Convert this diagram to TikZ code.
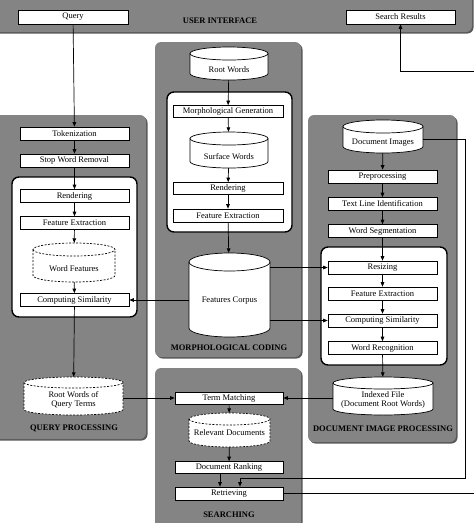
\documentclass[tikz,border=0pt]{standalone}
\usepackage{fontspec}
\setmainfont{Liberation Serif}
\usetikzlibrary{arrows.meta}
\definecolor{panelgray}{RGB}{132,132,132}
\definecolor{shadowgray}{RGB}{88,88,88}
\tikzset{
 base/.style={font=\fontsize{8.5}{9.5}\selectfont},
 panel/.style={fill=panelgray, rounded corners=6pt},
 pshadow/.style={fill=shadowgray, rounded corners=6pt},
 innerbox/.style={draw, fill=white, line width=1.4pt, rounded corners=7pt},
 box/.style={draw, fill=white, line width=0.7pt, inner sep=0pt, minimum height=13pt, base},
 txt/.style={inner sep=0pt, base, align=center},
 ptitle/.style={inner sep=0pt, font=\fontsize{8.5}{9.5}\selectfont\bfseries},
 cylbody/.style={draw, fill=white, line width=0.7pt},
 cylline/.style={draw, line width=0.7pt},
 dsh/.style={dash pattern=on 2pt off 1.5pt},
 arr/.style={line width=0.7pt, -{Triangle[length=4.5pt,width=3.6pt]}},
 ln/.style={line width=0.7pt},
}
% #1 extra style, #2 name, #3 cx, #4 top, #5 bottom, #6 rx, #7 ry, #8 text y, #9 text
\newcommand{\drawcyl}[9][]{%
  \path[cylbody,#1] ({#3-#6},{#4+#7}) -- ({#3-#6},{#5-#7})
     arc[start angle=180,end angle=360,x radius=#6pt,y radius=#7pt]
     -- ({#3+#6},{#4+#7})
     arc[start angle=0,end angle=180,x radius=#6pt,y radius=#7pt] -- cycle;
  \path[cylline,#1] ({#3-#6},{#4+#7}) arc[start angle=180,end angle=360,x radius=#6pt,y radius=#7pt];
  \node[inner sep=0pt,minimum width={2*#6pt},minimum height={(#5-#4)*1pt}] (#2) at (#3,{(#4+#5)/2}) {};
  \node[txt] (#2-t) at (#3,#8) {#9};
}
\newcommand{\drawpanel}[4]{%
  \fill[pshadow] ({#1+1.5},{#2+1.5}) rectangle ({#3+1.5},{#4+1.5});
  \fill[panel] (#1,#2) rectangle (#3,#4);
}
\begin{document}
\begin{tikzpicture}[x=1pt,y=-1pt]
\useasboundingbox (0,0) rectangle (474,523);
\clip (0,0) rectangle (474,523);
\fill[white] (0,0) rectangle (474,523);

% panels
\drawpanel{-8}{-10}{472}{32}
\drawpanel{155}{42}{301}{357}
\drawpanel{-8}{115}{146}{439}
\drawpanel{155}{368}{301}{535}
\drawpanel{308}{115}{456}{442}

% inner white boxes
\draw[innerbox] (12,177) rectangle (137,317);
\draw[innerbox] (167,92) rectangle (292,232);
\draw[innerbox] (321,247) rectangle (447,365);

% user interface
\node[box, minimum width=110pt, minimum height=14pt] (query) at (73,17) {Query};
\node[box, minimum width=109pt, minimum height=14pt] (sres) at (400.5,17) {Search Results};
\node[ptitle] (ui) at (220,21) {USER INTERFACE};

% query processing
\node[box, minimum width=109pt] (tok) at (74.5,133.5) {Tokenization};
\node[box, minimum width=109pt] (swr) at (74.5,160.5) {Stop Word Removal};
\node[box, minimum width=109pt] (qren) at (74.5,196) {Rendering};
\node[box, minimum width=109pt] (qfe) at (74.5,223) {Feature Extraction};
\drawcyl[dsh]{wf}{74}{243}{282}{41}{6.5}{269}{Word Features}
\node[box, minimum width=109pt] (qcs) at (74.5,300) {Computing Similarity};
\drawcyl[dsh]{rq}{73.5}{377}{415}{49.5}{5.5}{400}{Root Words of\\Query Terms}
\node[ptitle] (qp) at (74,428) {QUERY PROCESSING};

% morphological coding
\drawcyl{rw}{229}{47}{80}{39}{6.5}{70}{Root Words}
\node[box, minimum width=110pt, minimum height=12pt] (mg) at (228,111.5) {Morphological Generation};
\drawcyl{sw}{229}{132}{168}{39}{6.5}{157}{Surface Words}
\node[box, minimum width=110pt, minimum height=12pt] (mren) at (228,188.5) {Rendering};
\node[box, minimum width=110pt, minimum height=13pt] (mfe) at (228,215.5) {Feature Extraction};
\drawcyl{fc}{229.5}{253}{337}{40.5}{9}{301}{Features Corpus}
\node[ptitle] (mc) at (229,348) {MORPHOLOGICAL CODING};

% document image processing
\drawcyl{di}{383}{120}{153}{40}{6.5}{143}{Document Images}
\node[box, minimum width=109pt] (pre) at (382.5,176.5) {Preprocessing};
\node[box, minimum width=109pt] (tli) at (382.5,204) {Text Line Identification};
\node[box, minimum width=109pt] (wsg) at (382.5,231) {Word Segmentation};
\node[box, minimum width=109pt] (rsz) at (382.5,267.5) {Resizing};
\node[box, minimum width=109pt] (dfe) at (382.5,293.5) {Feature Extraction};
\node[box, minimum width=109pt] (dcs) at (382.5,320.5) {Computing Similarity};
\node[box, minimum width=109pt] (wrc) at (382.5,348) {Word Recognition};
\drawcyl{ixf}{383}{377}{415}{50}{6}{400}{Indexed File\\(Document Root Words)}
\node[ptitle] (dip) at (383,429) {DOCUMENT IMAGE PROCESSING};

% searching
\node[box, minimum width=108pt, minimum height=12pt] (tm) at (229,398) {Term Matching};
\drawcyl[dsh]{rd}{229.5}{413}{447}{40.5}{6}{433}{Relevant Documents}
\node[box, minimum width=108pt, minimum height=12pt] (drk) at (229,467.5) {Document Ranking};
\node[box, minimum width=108pt, minimum height=13pt] (ret) at (229,493.5) {Retrieving};
\node[ptitle] (se) at (229,515) {SEARCHING};

% connectors
\coordinate (c1) at (465.5,478);
\coordinate (c2) at (476,71);

\draw[arr] (query) -- (tok);
\draw[arr] (tok) -- (swr);
\draw[arr] (swr) -- (qren);
\draw[arr] (qren) -- (qfe);
\draw[arr] (qfe) -- (wf);
\draw[arr] (wf) -- (qcs);
\draw[arr] (fc.west |- qcs.east) -- (qcs.east);
\draw[arr] (qcs) -- (rq);
\draw[arr] (rq.east |- tm.west) -- (tm.west);

\draw[arr] (rw) -- (mg);
\draw[arr] (mg) -- (sw);
\draw[arr] (sw) -- (mren);
\draw[arr] (mren) -- (mfe);
\draw[arr] (mfe) -- (fc);
\draw[arr] (fc.east |- rsz.west) -- (rsz.west);
\draw[arr] (fc.east |- dcs.west) -- (dcs.west);

\draw[arr] (di) -- (pre);
\draw[arr] (pre) -- (tli);
\draw[arr] (tli) -- (wsg);
\draw[arr] (wsg) -- (rsz);
\draw[arr] (rsz) -- (dfe);
\draw[arr] (dfe) -- (dcs);
\draw[arr] (dcs) -- (wrc);
\draw[arr] (wrc) -- (ixf);
\draw[arr] (ixf.west |- tm.east) -- (tm.east);

\draw[arr] (tm) -- (rd);
\draw[arr] (rd) -- (drk);
\draw[arr] ([xshift=-9pt]drk.south) -- ([xshift=-9pt]ret.north);
\draw[arr] ([yshift=-2.5pt]di.east) -| (c1) -| ([xshift=11pt]ret.north);
\draw[arr] (ret.east) -| (c2) -| (sres.south);
\end{tikzpicture}
\end{document}
